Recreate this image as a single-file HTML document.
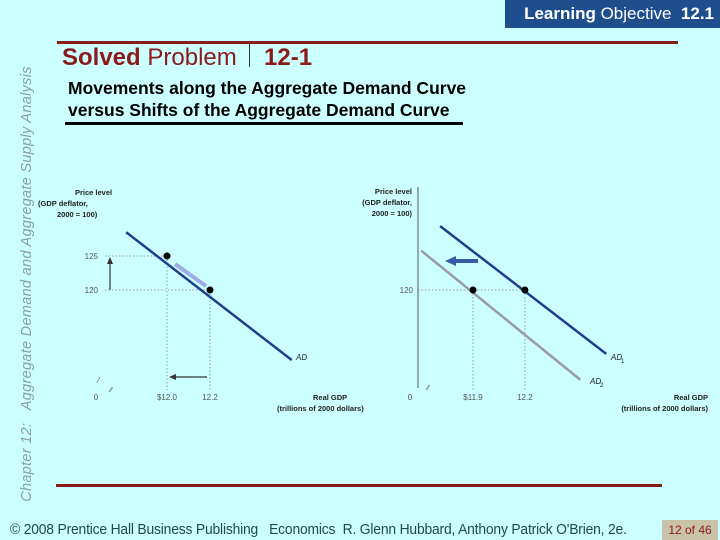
<!DOCTYPE html>
<html><head><meta charset="utf-8"><style>
body{margin:0;width:720px;height:540px;overflow:hidden;background:#ccffff;font-family:"Liberation Sans",sans-serif;position:relative}
.a{position:absolute}
</style></head><body>
<div class="a" style="left:505px;top:0;width:215px;height:28px;background:#1f4e8c;color:#fff;font-size:17px;line-height:28px;text-align:right;padding-right:6px;box-sizing:border-box"><b>Learning</b> Objective&nbsp; <b>12.1</b></div>
<div class="a" style="left:57px;top:41px;width:621px;height:3px;background:#8b1a1a"></div>
<div class="a" style="left:62px;top:44px;font-size:24px;color:#8b1a1a"><b>Solved</b> Problem</div>
<div class="a" style="left:249px;top:43px;width:1px;height:24px;background:#333"></div>
<div class="a" style="left:264px;top:44px;font-size:24px;color:#8b1a1a;font-weight:bold">12-1</div>
<div class="a" style="left:68px;top:77px;font-size:17.5px;font-weight:bold;line-height:22px;color:#000">Movements along the Aggregate Demand Curve<br>versus Shifts of the Aggregate Demand Curve</div>
<div class="a" style="left:65px;top:122px;width:398px;height:3px;background:#000"></div>
<div class="a" style="left:27px;top:284px;transform:translate(-50%,-50%) rotate(-90deg);white-space:nowrap;font-size:14.5px;font-style:italic;color:#8aa0a8;letter-spacing:0.3px">Chapter 12:&nbsp;&nbsp; Aggregate Demand and Aggregate Supply Analysis</div>
<svg class="a" style="left:0;top:0" width="720" height="540" font-family="Liberation Sans, sans-serif">
<g id="left"></g>
<g id="right"></g>
</svg>
<div class="a" style="left:56px;top:484px;width:606px;height:3px;background:#8b1a1a"></div>
<div class="a" style="left:10px;top:521px;font-size:15px;color:#1d4a55;white-space:nowrap;letter-spacing:-0.2px;transform:scaleX(0.925);transform-origin:0 0">© 2008 Prentice Hall Business Publishing&nbsp;&nbsp; Economics&nbsp; R. Glenn Hubbard, Anthony Patrick O'Brien, 2e.</div>
<div class="a" style="left:662px;top:520px;width:56px;height:20px;background:#c9c2a8;color:#8b1a1a;font-size:12px;text-align:center;line-height:20px">12 of 46</div>
<script>
// Left chart data
const leftPrices = [125, 120];
const leftGDP = [12.0, 12.2];
const leftTickX = ["$12.0", "12.2"];
const leftTickY = ["125", "120"];
const leftCurve = [[11.81, 128.5], [12.58, 109.7]];
// Right chart data
const rightPrices = [120, 120];
const rightGDP = [11.9, 12.2];
const rightTickX = ["$11.9", "12.2"];
const rightTickY = ["120"];
const ad1Curve = [[11.71, 129.4], [12.67, 110.6]];
const ad2Curve = [[11.6, 125.8], [12.52, 106.8]];

const NS="http://www.w3.org/2000/svg";
function mk(p,t,a){const e=document.createElementNS(NS,t);for(const k in a)e.setAttribute(k,a[k]);p.appendChild(e);return e;}
function tx(p,x,y,s,o){const e=mk(p,'text',Object.assign({x:x,y:y,'font-size':8,fill:'#222'},o||{}));e.textContent=s;return e;}

// Left
const L=document.getElementById('left');
const lx=v=>167+(v-12.0)*215, ly=v=>290-(v-120)*6.8;
tx(L,75,195,"Price level",{'font-size':7.5,'font-weight':'bold'});
tx(L,38,206,"(GDP deflator,",{'font-size':7.5,'font-weight':'bold'});
tx(L,57,217,"2000 = 100)",{'font-size':7.5,'font-weight':'bold'});
leftPrices.forEach((p,i)=>{
 let g=mk(L,'line',{x1:105,y1:ly(p),x2:lx(leftGDP[i]),y2:ly(p),stroke:'#999','stroke-dasharray':'1.5,2','stroke-width':1});
 
 g=mk(L,'line',{x1:lx(leftGDP[i]),y1:ly(p),x2:lx(leftGDP[i]),y2:390,stroke:'#999','stroke-dasharray':'1.5,2','stroke-width':1});
 
});
leftTickY.forEach((s,i)=>{const e=tx(L,98,ly(leftPrices[i])+3,s,{'text-anchor':'end',fill:'#555'});});
leftTickX.forEach((s,i)=>{const e=tx(L,lx(leftGDP[i]),400,s,{'text-anchor':'middle',fill:'#555'});});
tx(L,96,400,"0",{'text-anchor':'middle',fill:'#555'});
tx(L,98,383,"⁄",{fill:'#555'});tx(L,110,392,"⁄⁄",{fill:'#555','font-size':7});
let ad=mk(L,'line',{x1:lx(leftCurve[0][0]),y1:ly(leftCurve[0][1]),x2:lx(leftCurve[1][0]),y2:ly(leftCurve[1][1]),stroke:'#1f3f8a','stroke-width':2.5});

let mv=mk(L,'line',{x1:lx(leftGDP[1])-4,y1:ly(leftPrices[1])-4,x2:lx(leftGDP[0])+8,y2:ly(leftPrices[0])+8,stroke:'#8a8ae0','stroke-width':4,opacity:0.7});

leftPrices.forEach((p,i)=>{const c=mk(L,'circle',{cx:lx(leftGDP[i]),cy:ly(p),r:3.5,fill:'#000'});});
tx(L,296,360,"AD",{'font-style':'italic'});
mk(L,'line',{x1:110,y1:290,x2:110,y2:262,stroke:'#333','stroke-width':1.2});
mk(L,'path',{d:'M107,264 L110,257 L113,264Z',fill:'#333'});
mk(L,'line',{x1:207,y1:377,x2:175,y2:377,stroke:'#333','stroke-width':1.2});
mk(L,'path',{d:'M176,374 L169,377 L176,380Z',fill:'#333'});
tx(L,313,400,"Real GDP",{'font-weight':'bold','font-size':7.5});
tx(L,277,411,"(trillions of 2000 dollars)",{'font-weight':'bold','font-size':7.5});

// Right
const R=document.getElementById('right');
const rx=v=>473+(v-11.9)*173, ry=v=>290-(v-120)*6.8;
mk(R,'line',{x1:418,y1:187,x2:418,y2:388,stroke:'#555','stroke-width':1});
tx(R,412,194,"Price level",{'text-anchor':'end','font-size':7.5,'font-weight':'bold'});
tx(R,412,205,"(GDP deflator,",{'text-anchor':'end','font-size':7.5,'font-weight':'bold'});
tx(R,412,216,"2000 = 100)",{'text-anchor':'end','font-size':7.5,'font-weight':'bold'});
mk(R,'line',{x1:418,y1:ry(120),x2:rx(rightGDP[1]),y2:ry(120),stroke:'#999','stroke-dasharray':'1.5,2'});
rightGDP.forEach((g,i)=>{const e=mk(R,'line',{x1:rx(g),y1:ry(rightPrices[i]),x2:rx(g),y2:390,stroke:'#999','stroke-dasharray':'1.5,2'});});
rightTickY.forEach(s=>{const e=tx(R,413,ry(+s)+3,s,{'text-anchor':'end',fill:'#555'});});
rightTickX.forEach((s,i)=>{const e=tx(R,rx(rightGDP[i]),400,s,{'text-anchor':'middle',fill:'#555'});});
tx(R,410,400,"0",{'text-anchor':'middle',fill:'#555'});
tx(R,427,390,"⁄⁄",{fill:'#555','font-size':7});
let a2=mk(R,'line',{x1:rx(ad2Curve[0][0]),y1:ry(ad2Curve[0][1]),x2:rx(ad2Curve[1][0]),y2:ry(ad2Curve[1][1]),stroke:'#9a9aaa','stroke-width':2.5});

let a1=mk(R,'line',{x1:rx(ad1Curve[0][0]),y1:ry(ad1Curve[0][1]),x2:rx(ad1Curve[1][0]),y2:ry(ad1Curve[1][1]),stroke:'#1f3f8a','stroke-width':2.5});

let sh=mk(R,'path',{d:'M478,259 L456,259 L456,256 L445,261 L456,266 L456,263 L478,263Z',fill:'#3a5aa8'});

rightGDP.forEach((g,i)=>{const c=mk(R,'circle',{cx:rx(g),cy:ry(rightPrices[i]),r:3.5,fill:'#000'});});
tx(R,611,360,"AD",{'font-style':'italic'});tx(R,621,363,"1",{'font-size':6});
tx(R,590,384,"AD",{'font-style':'italic'});tx(R,600,387,"2",{'font-size':6});
tx(R,708,400,"Real GDP",{'text-anchor':'end','font-weight':'bold','font-size':7.5});
tx(R,708,411,"(trillions of 2000 dollars)",{'text-anchor':'end','font-weight':'bold','font-size':7.5});
</script>
</body></html>
